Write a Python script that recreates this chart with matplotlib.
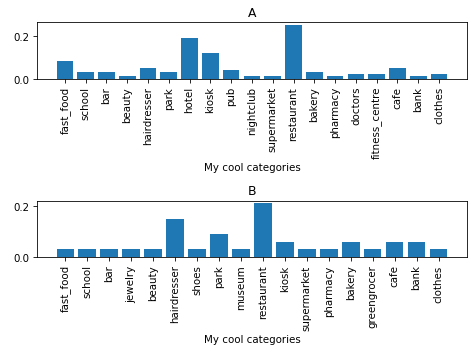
import matplotlib
matplotlib.use('Agg')
import matplotlib.pyplot as plt

# Category shares per group
cats_a = ['fast_food', 'school', 'bar', 'beauty', 'hairdresser', 'park', 'hotel',
          'kiosk', 'pub', 'nightclub', 'supermarket', 'restaurant', 'bakery',
          'pharmacy', 'doctors', 'fitness_centre', 'cafe', 'bank', 'clothes']
vals_a = [0.08, 0.03, 0.03, 0.01, 0.05, 0.03, 0.19, 0.12, 0.04, 0.01, 0.01,
          0.25, 0.03, 0.01, 0.02, 0.02, 0.05, 0.01, 0.02]

cats_b = ['fast_food', 'school', 'bar', 'jewelry', 'beauty', 'hairdresser', 'shoes',
          'park', 'museum', 'restaurant', 'kiosk', 'supermarket', 'pharmacy',
          'bakery', 'greengrocer', 'cafe', 'bank', 'clothes']
vals_b = [0.03, 0.03, 0.03, 0.03, 0.03, 0.15, 0.03, 0.09, 0.03, 0.21, 0.06,
          0.03, 0.03, 0.06, 0.03, 0.06, 0.06, 0.03]

# default 6.4x4.8 figure rendered down to ~474x356
dpi = 474 / 6.4
fig, axes = plt.subplots(2, 1, figsize=(6.4, 356 / dpi), dpi=dpi)

for ax, title, cats, vals in [(axes[0], 'A', cats_a, vals_a),
                              (axes[1], 'B', cats_b, vals_b)]:
    ax.bar(cats, vals)
    ax.set_title(title)
    ax.set_xlabel('My cool categories')
    ax.tick_params(axis='x', rotation=90)

fig.subplots_adjust(left=0.078, right=0.985, top=0.935, bottom=0.275, hspace=2.16)
plt.savefig('out.png', dpi=dpi)
